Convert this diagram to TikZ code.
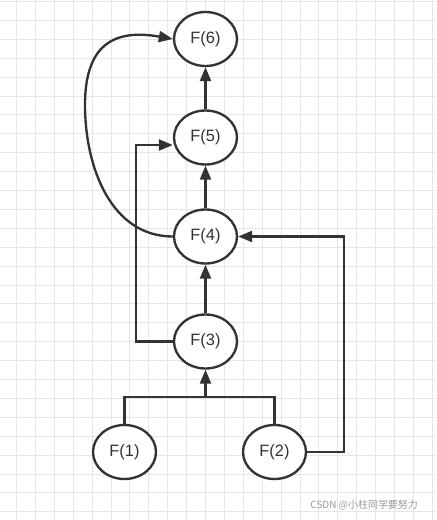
\documentclass[tikz,border=0pt]{standalone}
\usepackage{fontspec}
\setmainfont{Liberation Sans}
\newfontfamily\cjkfont{Noto Sans CJK SC}
\usepackage{xcolor}
\usepackage{tikz}
\usetikzlibrary{shapes.geometric,arrows.meta}
\definecolor{FibLine}{HTML}{333333}
\definecolor{FibGrid}{HTML}{E6E6E6}
\definecolor{FibMark}{HTML}{9A9A9A}
\tikzset{
  fnode/.style={ellipse,draw=FibLine,line width=2pt,fill=white,minimum width=1.89cm,
    minimum height=1.62cm,inner sep=0pt,text=FibLine,font=\fontsize{14}{16}\selectfont},
  link/.style={draw=FibLine,line width=2pt},
  linkto/.style={link,-{Triangle[length=0.42cm,width=0.33cm]}},
  gridline/.style={FibGrid,line width=0.8pt}
}

\begin{document}
\begin{tikzpicture}[x=0.03cm,y=-0.03cm]
\path[use as bounding box] (0,0) rectangle (436,520);
\fill[white] (0,0) rectangle (436,520);
\foreach \i in {0,...,22} \draw[gridline] ({16.5+18.9*\i},0) -- ++(0,520);
\foreach \j in {0,...,27} \draw[gridline] (0,{1.5+18.9*\j}) -- ++(436,0);
\node[fnode] (f6) at (205.5,39) {F(6)};
\node[fnode] (f5) at (205.5,137.5) {F(5)};
\node[fnode] (f4) at (205.5,236.5) {F(4)};
\node[fnode] (f3) at (205.5,341.5) {F(3)};
\node[fnode] (f1) at (124.5,452) {F(1)};
\node[fnode] (f2) at (274.5,452) {F(2)};
\coordinate (join) at (205.5,397);
\coordinate (left5) at (136,145);
\coordinate (right4) at (344,236.5);
\coordinate (bend) at (85,105);
\draw[link] (f1.north) |- (join) -| (f2.north);
\draw[linkto] (join) -- (f3.south);
\draw[linkto] (f3) -- (f4);
\draw[linkto] (f4) -- (f5);
\draw[linkto] (f5) -- (f6);
\draw[linkto] (f3.west) -| (left5) -- (left5 -| f5.west);
\draw[linkto] (f2.east) -| (right4) -- (f4.east);
\draw[linkto] (f4.west) to[out=180,in=-90] (bend) to[out=90,in=170,looseness=1.4] (f6.west);
\node[anchor=east,text=FibMark,font=\cjkfont\fontsize{8.5}{10}\selectfont] (mark) at (422,505.5) {CSDN @小柱同学要努力};
\end{tikzpicture}
\end{document}
